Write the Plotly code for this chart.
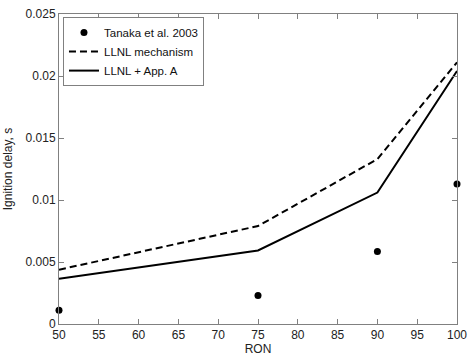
import plotly.graph_objects as go

ron = [50, 75, 90, 100]
tanaka = [0.0011, 0.0023, 0.00585, 0.0113]
llnl = [0.00438, 0.0079, 0.0133, 0.0211]
llnl_app = [0.00364, 0.00593, 0.0106, 0.0204]

xticks = [50, 55, 60, 65, 70, 75, 80, 85, 90, 95, 100]
yticks = [0, 0.005, 0.01, 0.015, 0.02, 0.025]
yticktext = ["0", "0.005", "0.01", "0.015", "0.02", "0.025"]

fig = go.Figure()
fig.add_trace(go.Scatter(x=ron, y=tanaka, mode="markers", name="Tanaka et al. 2003",
                         marker=dict(color="black", size=7, symbol="circle"), cliponaxis=False))
fig.add_trace(go.Scatter(x=ron, y=llnl, mode="lines", name="LLNL mechanism",
                         line=dict(color="black", width=2, dash="7px,4px")))
fig.add_trace(go.Scatter(x=ron, y=llnl_app, mode="lines", name="LLNL + App. A",
                         line=dict(color="black", width=2)))

axis_common = dict(showgrid=False, zeroline=False, showline=True, linecolor="#808080",
                   linewidth=1, mirror="ticks", ticks="inside", ticklen=5,
                   tickcolor="#808080", tickfont=dict(family="Liberation Sans", size=12, color="#222"))

fig.update_layout(
    width=474, height=358,
    margin=dict(l=54, r=11, t=7, b=33),
    paper_bgcolor="white", plot_bgcolor="white",
    font=dict(family="Liberation Sans", size=12, color="#222"),
    showlegend=True,
    legend=dict(x=0.01, y=0.99, xanchor="left", yanchor="top", bgcolor="white",
                bordercolor="#808080", borderwidth=1, font=dict(size=11.5, color="#111"),
                tracegroupgap=0, itemwidth=30),
)
fig.update_xaxes(range=[50, 100], tickvals=xticks, **axis_common,
                 title=dict(text="RON", font=dict(size=12), standoff=0))
fig.update_yaxes(range=[0, 0.025], tickvals=yticks, ticktext=yticktext, **axis_common,
                 title=dict(text="Ignition delay, s", font=dict(size=12), standoff=10))

fig.write_html("out.html", config={"displayModeBar": False},
               post_script="document.body.style.margin='0';")
